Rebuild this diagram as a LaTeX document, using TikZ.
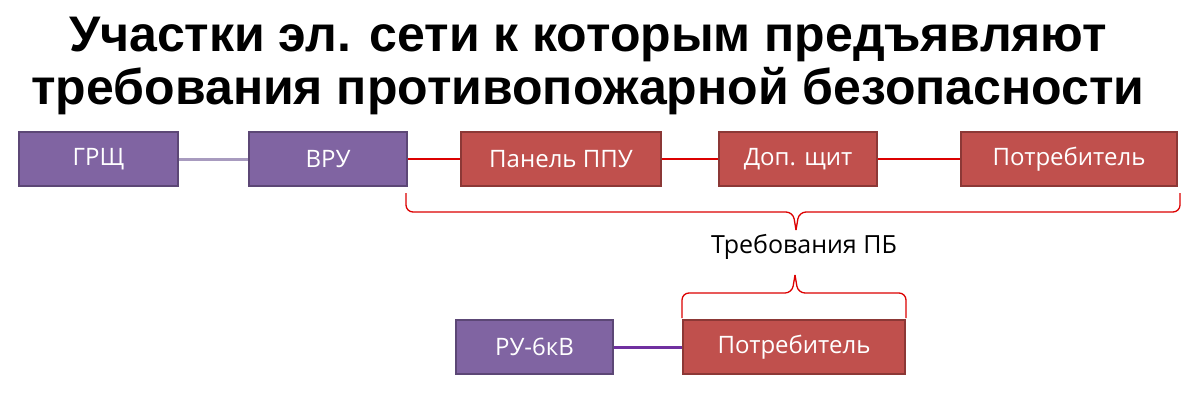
\documentclass[tikz,border=0pt]{standalone}
\usepackage{fontspec}
\setmainfont{Open Sans}
\newfontfamily\titlefont{Liberation Sans}
\begin{document}
\begin{tikzpicture}[x=1pt,y=-1pt,
  pbox/.style={draw={rgb,255:red,92;green,71;blue,118}, line width=2pt, fill={rgb,255:red,128;green,100;blue,162}, text=white, font=\fontsize{24}{28}\selectfont, inner sep=0pt, anchor=north west},
  rbox/.style={draw={rgb,255:red,140;green,56;blue,54}, line width=2pt, fill={rgb,255:red,192;green,80;blue,77}, text=white, font=\fontsize{24}{28}\selectfont, inner sep=0pt, anchor=north west},
  rline/.style={draw={rgb,255:red,220;green,0;blue,0}, line width=1.3pt}]
\useasboundingbox (0,0) rectangle (1190,402);
\node[font=\titlefont\bfseries\fontsize{50}{53}\selectfont, align=center] (title) at (588,66) {Участки эл. сети к которым предъявляют\\требования противопожарной безопасности};
\node[pbox, minimum width=159, minimum height=54] (grsch) at (18,131) {ГРЩ};
\node[pbox, minimum width=158, minimum height=54] (vru) at (248,131) {ВРУ};
\node[rbox, minimum width=200, minimum height=54] (ppu) at (460,131) {Панель ППУ};
\node[rbox, minimum width=158, minimum height=54] (dop) at (718,131) {Доп. щит};
\node[rbox, minimum width=216, minimum height=54] (potr) at (960,131) {Потребитель};
\draw[line width=3pt, draw={rgb,255:red,168;green,155;blue,191}] (grsch) -- (vru);
\draw[rline] (vru) -- (ppu);
\draw[rline] (ppu) -- (dop);
\draw[rline] (dop) -- (potr);
\draw[rline, rounded corners=7] (406,193) -- (406,212) -- (793,212) -- (796,230);
\draw[rline, rounded corners=7] (1180,193) -- (1180,212) -- (799,212) -- (796,230);
\node[font=\fontsize{25}{30}\selectfont] (req) at (804,247) {Требования ПБ};
\node[pbox, minimum width=157, minimum height=54] (ru) at (455,319) {РУ-6кВ};
\node[rbox, minimum width=222, minimum height=54] (potr2) at (682,319) {Потребитель};
\draw[line width=3pt, draw={rgb,255:red,112;green,48;blue,160}] (ru) -- (potr2);
\draw[rline, rounded corners=7] (682,318) -- (682,293) -- (792,293) -- (795,275);
\draw[rline, rounded corners=7] (906,318) -- (906,293) -- (798,293) -- (795,275);
\end{tikzpicture}
\end{document}
